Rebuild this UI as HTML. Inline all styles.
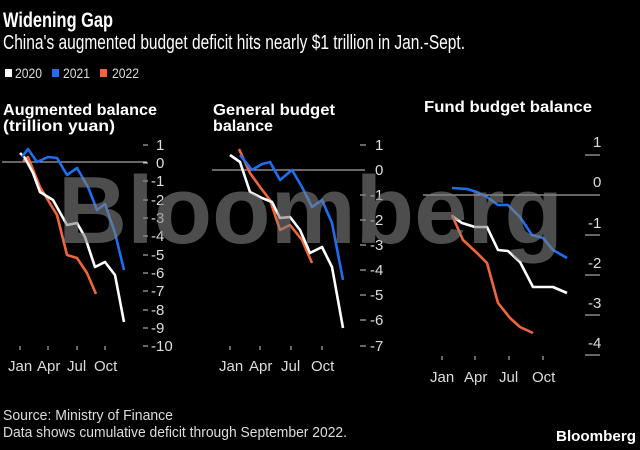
<!DOCTYPE html>
<html><head><style>html,body{margin:0;padding:0;background:#000;}svg{display:block}</style></head>
<body>
<svg width="640" height="450" viewBox="0 0 640 450" xmlns="http://www.w3.org/2000/svg" font-family="Liberation Sans, sans-serif">
<rect width="640" height="450" fill="#000"/>
<text x="3" y="27" fill="#fff" font-size="21" font-weight="bold" textLength="110" lengthAdjust="spacingAndGlyphs">Widening Gap</text>
<text x="3" y="49" fill="#fff" font-size="20" textLength="462" lengthAdjust="spacingAndGlyphs">China's augmented budget deficit hits nearly $1 trillion in Jan.-Sept.</text>
<rect x="5" y="69" width="7" height="8" fill="#fff"/><text x="15" y="78" fill="#ddd" font-size="14" textLength="27" lengthAdjust="spacingAndGlyphs">2020</text>
<rect x="52" y="69" width="7" height="8" fill="#1e6ff0"/><text x="63" y="78" fill="#ddd" font-size="14" textLength="27" lengthAdjust="spacingAndGlyphs">2021</text>
<rect x="100" y="69" width="7" height="8" fill="#f0663a"/><text x="112" y="78" fill="#ddd" font-size="14" textLength="27" lengthAdjust="spacingAndGlyphs">2022</text>

<g fill="#fff" font-size="16" font-weight="bold">
<text x="3" y="115" textLength="154" lengthAdjust="spacingAndGlyphs">Augmented balance</text>
<text x="3" y="131" textLength="112" lengthAdjust="spacingAndGlyphs">(trillion yuan)</text>
<text x="213" y="115" textLength="122" lengthAdjust="spacingAndGlyphs">General budget</text>
<text x="213" y="131" textLength="60" lengthAdjust="spacingAndGlyphs">balance</text>
<text x="424" y="112" textLength="168" lengthAdjust="spacingAndGlyphs">Fund budget balance</text>
</g>

<g stroke="#ccc" stroke-width="1" fill="none">
<line x1="2" y1="162" x2="147" y2="162"/>
<line x1="212" y1="170" x2="365" y2="170"/>
<line x1="423" y1="195" x2="600" y2="195"/>
</g>
<g fill="#ddd" font-size="15">
<g stroke="#ccc"><line x1="143" y1="145" x2="148" y2="145"/><line x1="143" y1="163" x2="148" y2="163"/><line x1="143" y1="181" x2="148" y2="181"/><line x1="143" y1="200" x2="148" y2="200"/><line x1="143" y1="218" x2="148" y2="218"/><line x1="143" y1="236" x2="148" y2="236"/><line x1="143" y1="255" x2="148" y2="255"/><line x1="143" y1="273" x2="148" y2="273"/><line x1="143" y1="291" x2="148" y2="291"/><line x1="143" y1="310" x2="148" y2="310"/><line x1="143" y1="328" x2="148" y2="328"/><line x1="143" y1="346" x2="148" y2="346"/></g>
<text x="156" y="150">1</text><text x="156" y="168">0</text><text x="151" y="186">-1</text><text x="151" y="205">-2</text><text x="151" y="223">-3</text><text x="151" y="241">-4</text><text x="151" y="260">-5</text><text x="151" y="278">-6</text><text x="151" y="296">-7</text><text x="151" y="315">-8</text><text x="151" y="333">-9</text><text x="151" y="351">-10</text>
<g stroke="#ccc"><line x1="20" y1="346" x2="20" y2="350"/><line x1="48" y1="346" x2="48" y2="350"/><line x1="77" y1="346" x2="77" y2="350"/><line x1="105" y1="346" x2="105" y2="350"/></g>
<text x="8" y="371">Jan</text><text x="37" y="371">Apr</text><text x="67" y="371">Jul</text><text x="94" y="371">Oct</text>
<g stroke="#ccc"><line x1="360" y1="145" x2="366" y2="145"/><line x1="360" y1="195" x2="366" y2="195"/><line x1="360" y1="220" x2="366" y2="220"/><line x1="360" y1="245" x2="366" y2="245"/><line x1="360" y1="270" x2="366" y2="270"/><line x1="360" y1="295" x2="366" y2="295"/><line x1="360" y1="320" x2="366" y2="320"/><line x1="360" y1="346" x2="366" y2="346"/></g>
<text x="375" y="150">1</text><text x="375" y="175">0</text><text x="370" y="200">-1</text><text x="370" y="225">-2</text><text x="370" y="250">-3</text><text x="370" y="275">-4</text><text x="370" y="300">-5</text><text x="370" y="325">-6</text><text x="370" y="351">-7</text>
<g stroke="#ccc"><line x1="230" y1="346" x2="230" y2="350"/><line x1="260" y1="346" x2="260" y2="350"/><line x1="291" y1="346" x2="291" y2="350"/><line x1="322" y1="346" x2="322" y2="350"/></g>
<text x="219" y="371">Jan</text><text x="249" y="371">Apr</text><text x="281" y="371">Jul</text><text x="311" y="371">Oct</text>
<g stroke="#ccc"><line x1="585" y1="155" x2="600" y2="155"/><line x1="585" y1="235" x2="600" y2="235"/><line x1="585" y1="275" x2="600" y2="275"/><line x1="585" y1="315" x2="600" y2="315"/><line x1="585" y1="355" x2="600" y2="355"/></g>
<text x="593" y="147">1</text><text x="593" y="187">0</text><text x="588" y="228">-1</text><text x="588" y="268">-2</text><text x="588" y="308">-3</text><text x="588" y="348">-4</text>
<g stroke="#ccc"><line x1="442" y1="356" x2="442" y2="360"/><line x1="475" y1="356" x2="475" y2="360"/><line x1="509" y1="356" x2="509" y2="360"/><line x1="543" y1="356" x2="543" y2="360"/></g>
<text x="430" y="382">Jan</text><text x="464" y="382">Apr</text><text x="499" y="382">Jul</text><text x="532" y="382">Oct</text>
</g>

<g fill="none" stroke-width="2.6" stroke-linejoin="round">
<polyline stroke="#f0663a" points="23,161 28,157 40,187 57,215 67,255 77,258 87,273 96,294"/>
<polyline stroke="#fff" points="20,153 25,158 33,173 40,192 53,200 67,225 77,223 85,237 95,267 105,262 115,275 124,322"/>
<polyline stroke="#1e6ff0" points="22,157 28,149 37,162 48,157 57,158 67,175 77,168 88,187 97,210 105,204 115,233 124,270"/>
<polyline stroke="#f0663a" points="239,149 250,173 260,187 270,200 280,230 290,225 302,240 312,263"/>
<polyline stroke="#fff" points="230,155 240,162 250,192 262,198 272,202 280,218 290,217 300,230 310,253 322,247 332,267 343,328"/>
<polyline stroke="#1e6ff0" points="240,155 252,170 262,164 270,162 280,180 292,170 302,187 312,207 322,200 332,223 343,280"/>
<polyline stroke="#1e6ff0" points="452,188 467,189 477,192 487,197 498,205 508,205 520,217 532,235 543,238 553,250 567,258"/>
<polyline stroke="#fff" points="452,216 462,223 475,227 487,227 498,250 508,251 520,262 533,287 553,287 567,293"/>
<polyline stroke="#f0663a" points="452,215 463,240 477,253 487,263 498,303 510,318 520,327 533,333"/>
</g>

<text x="58" y="243" fill="#808080" fill-opacity="0.6" font-size="96" font-weight="bold" textLength="505" lengthAdjust="spacingAndGlyphs">Bloomberg</text>

<text x="3" y="420" fill="#ddd" font-size="15" textLength="170" lengthAdjust="spacingAndGlyphs">Source: Ministry of Finance</text>
<text x="3" y="437" fill="#ddd" font-size="15" textLength="344" lengthAdjust="spacingAndGlyphs">Data shows cumulative deficit through September 2022.</text>
<text x="556" y="441" fill="#fff" font-size="15" font-weight="bold" textLength="80" lengthAdjust="spacingAndGlyphs">Bloomberg</text>
</svg>
</body></html>
